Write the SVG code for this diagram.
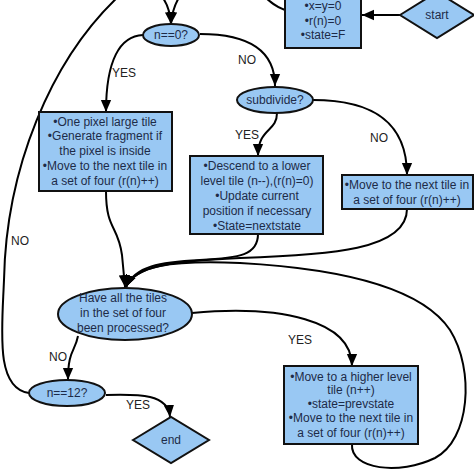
<svg xmlns="http://www.w3.org/2000/svg" width="474" height="474" viewBox="0 0 474 474">
<defs>
<marker id="ah" markerWidth="12" markerHeight="16" refX="14" refY="6" orient="auto" markerUnits="userSpaceOnUse" viewBox="0 0 14 12">
<path d="M0,0 L14,6 L0,12 Z" fill="#000"/>
</marker>
<style>
.n{fill:#99c8f3;stroke:#111;stroke-width:2}
.c{fill:none;stroke:#000;stroke-width:2}
.a{marker-end:url(#ah)}
text{font-family:"Liberation Sans",Arial,sans-serif;font-size:12px;fill:#1d2b48;text-anchor:middle}
.l{fill:#222}
</style>
</defs>
<rect width="474" height="474" fill="#fff"/>
<g id="connectors">
<path class="c a" d="M29,393 C-5,388 2,330 4,280 C6,170 50,60 120,-5 C140,-20 168,-15 171,24"/>
<path class="c a" d="M285,10 C270,5 265,-5 250,-15 C210,-30 175,-20 171,24"/>
<path class="c a" d="M400,15 L362,15"/>
<path class="c a" d="M200,34 C240,34 275,45 275,86"/>
<path class="c a" d="M143,35 C120,36 106,60 106,112"/>
<path class="c a" d="M277,113 C277,132 258,128 258,156"/>
<path class="c a" d="M313,100 C370,100 407,120 407,175"/>
<path class="c a" d="M106,191 C106,230 118,225 122,255 L125,287"/>
<path class="c a" d="M258,234 C258,255 240,258 200,260 C160,262 135,266 126,287"/>
<path class="c a" d="M407,209 C407,250 330,255 240,258 C170,261 135,266 126,287"/>
<path class="c a" d="M352,444 C350,470 400,475 435,458 C470,440 475,370 450,330 C420,285 330,268 240,263 C170,260 135,266 126,287"/>
<path class="c a" d="M192,313 C280,305 352,320 352,366"/>
<path class="c a" d="M78,336 C75,352 68,350 68,380"/>
<path class="c a" d="M106,395 C140,394 168,394 170,417"/>
<text class="l" x="124" y="77">YES</text>
<text class="l" x="247" y="64">NO</text>
<text class="l" x="247" y="139">YES</text>
<text class="l" x="379" y="142">NO</text>
<text class="l" x="20" y="245">NO</text>
<text class="l" x="58" y="361">NO</text>
<text class="l" x="138" y="409">YES</text>
<text class="l" x="300" y="344">YES</text>
</g>
<g id="start">
<path class="n" d="M400,15 L437,-8 L474,15 L437,38 Z"/>
<text x="437" y="19">start</text>
</g>
<g id="init">
<rect class="n" x="285" y="-30" width="76" height="78"/>
<text x="323" y="10">•x=y=0</text>
<text x="323" y="25">•r(n)=0</text>
<text x="323" y="39">•state=F</text>
</g>
<g id="n0">
<ellipse class="n" cx="171" cy="35" rx="28" ry="11"/>
<text x="171" y="39">n==0?</text>
</g>
<g id="subdivide">
<ellipse class="n" cx="275" cy="100" rx="38" ry="13"/>
<text x="275" y="104">subdivide?</text>
</g>
<g id="pixel">
<rect class="n" x="39" y="112" width="133" height="79"/>
<text x="105" y="126">•One pixel large tile</text>
<text x="105" y="140">•Generate fragment if</text>
<text x="105" y="155">the pixel is inside</text>
<text x="105" y="170">•Move to the next tile in</text>
<text x="105" y="185">a set of four (r(n)++)</text>
</g>
<g id="descend">
<rect class="n" x="190" y="156" width="133" height="78"/>
<text x="257" y="170">•Descend to a lower</text>
<text x="257" y="185">level tile (n--),(r(n)=0)</text>
<text x="257" y="200">•Update current</text>
<text x="257" y="215">position if necessary</text>
<text x="257" y="230">•State=nextstate</text>
</g>
<g id="next">
<rect class="n" x="342" y="175" width="131" height="34"/>
<text x="407" y="189">•Move to the next tile in</text>
<text x="407" y="204">a set of four (r(n)++)</text>
</g>
<g id="allprocessed">
<ellipse class="n" cx="125" cy="314" rx="67" ry="26"/>
<text x="123" y="302">Have all the tiles</text>
<text x="123" y="317">in the set of four</text>
<text x="123" y="332">been processed?</text>
</g>
<g id="n12">
<ellipse class="n" cx="67" cy="393" rx="38" ry="13"/>
<text x="67" y="397">n==12?</text>
</g>
<g id="end">
<path class="n" d="M133,440 L171,417 L209,440 L171,463 Z"/>
<text x="171" y="444">end</text>
</g>
<g id="higher">
<rect class="n" x="284" y="366" width="134" height="78"/>
<text x="351" y="381">•Move to a higher level</text>
<text x="351" y="394">tile (n++)</text>
<text x="351" y="408">•state=prevstate</text>
<text x="351" y="422">•Move to the next tile in</text>
<text x="351" y="437">a set of four (r(n)++)</text>
</g>
</svg>
